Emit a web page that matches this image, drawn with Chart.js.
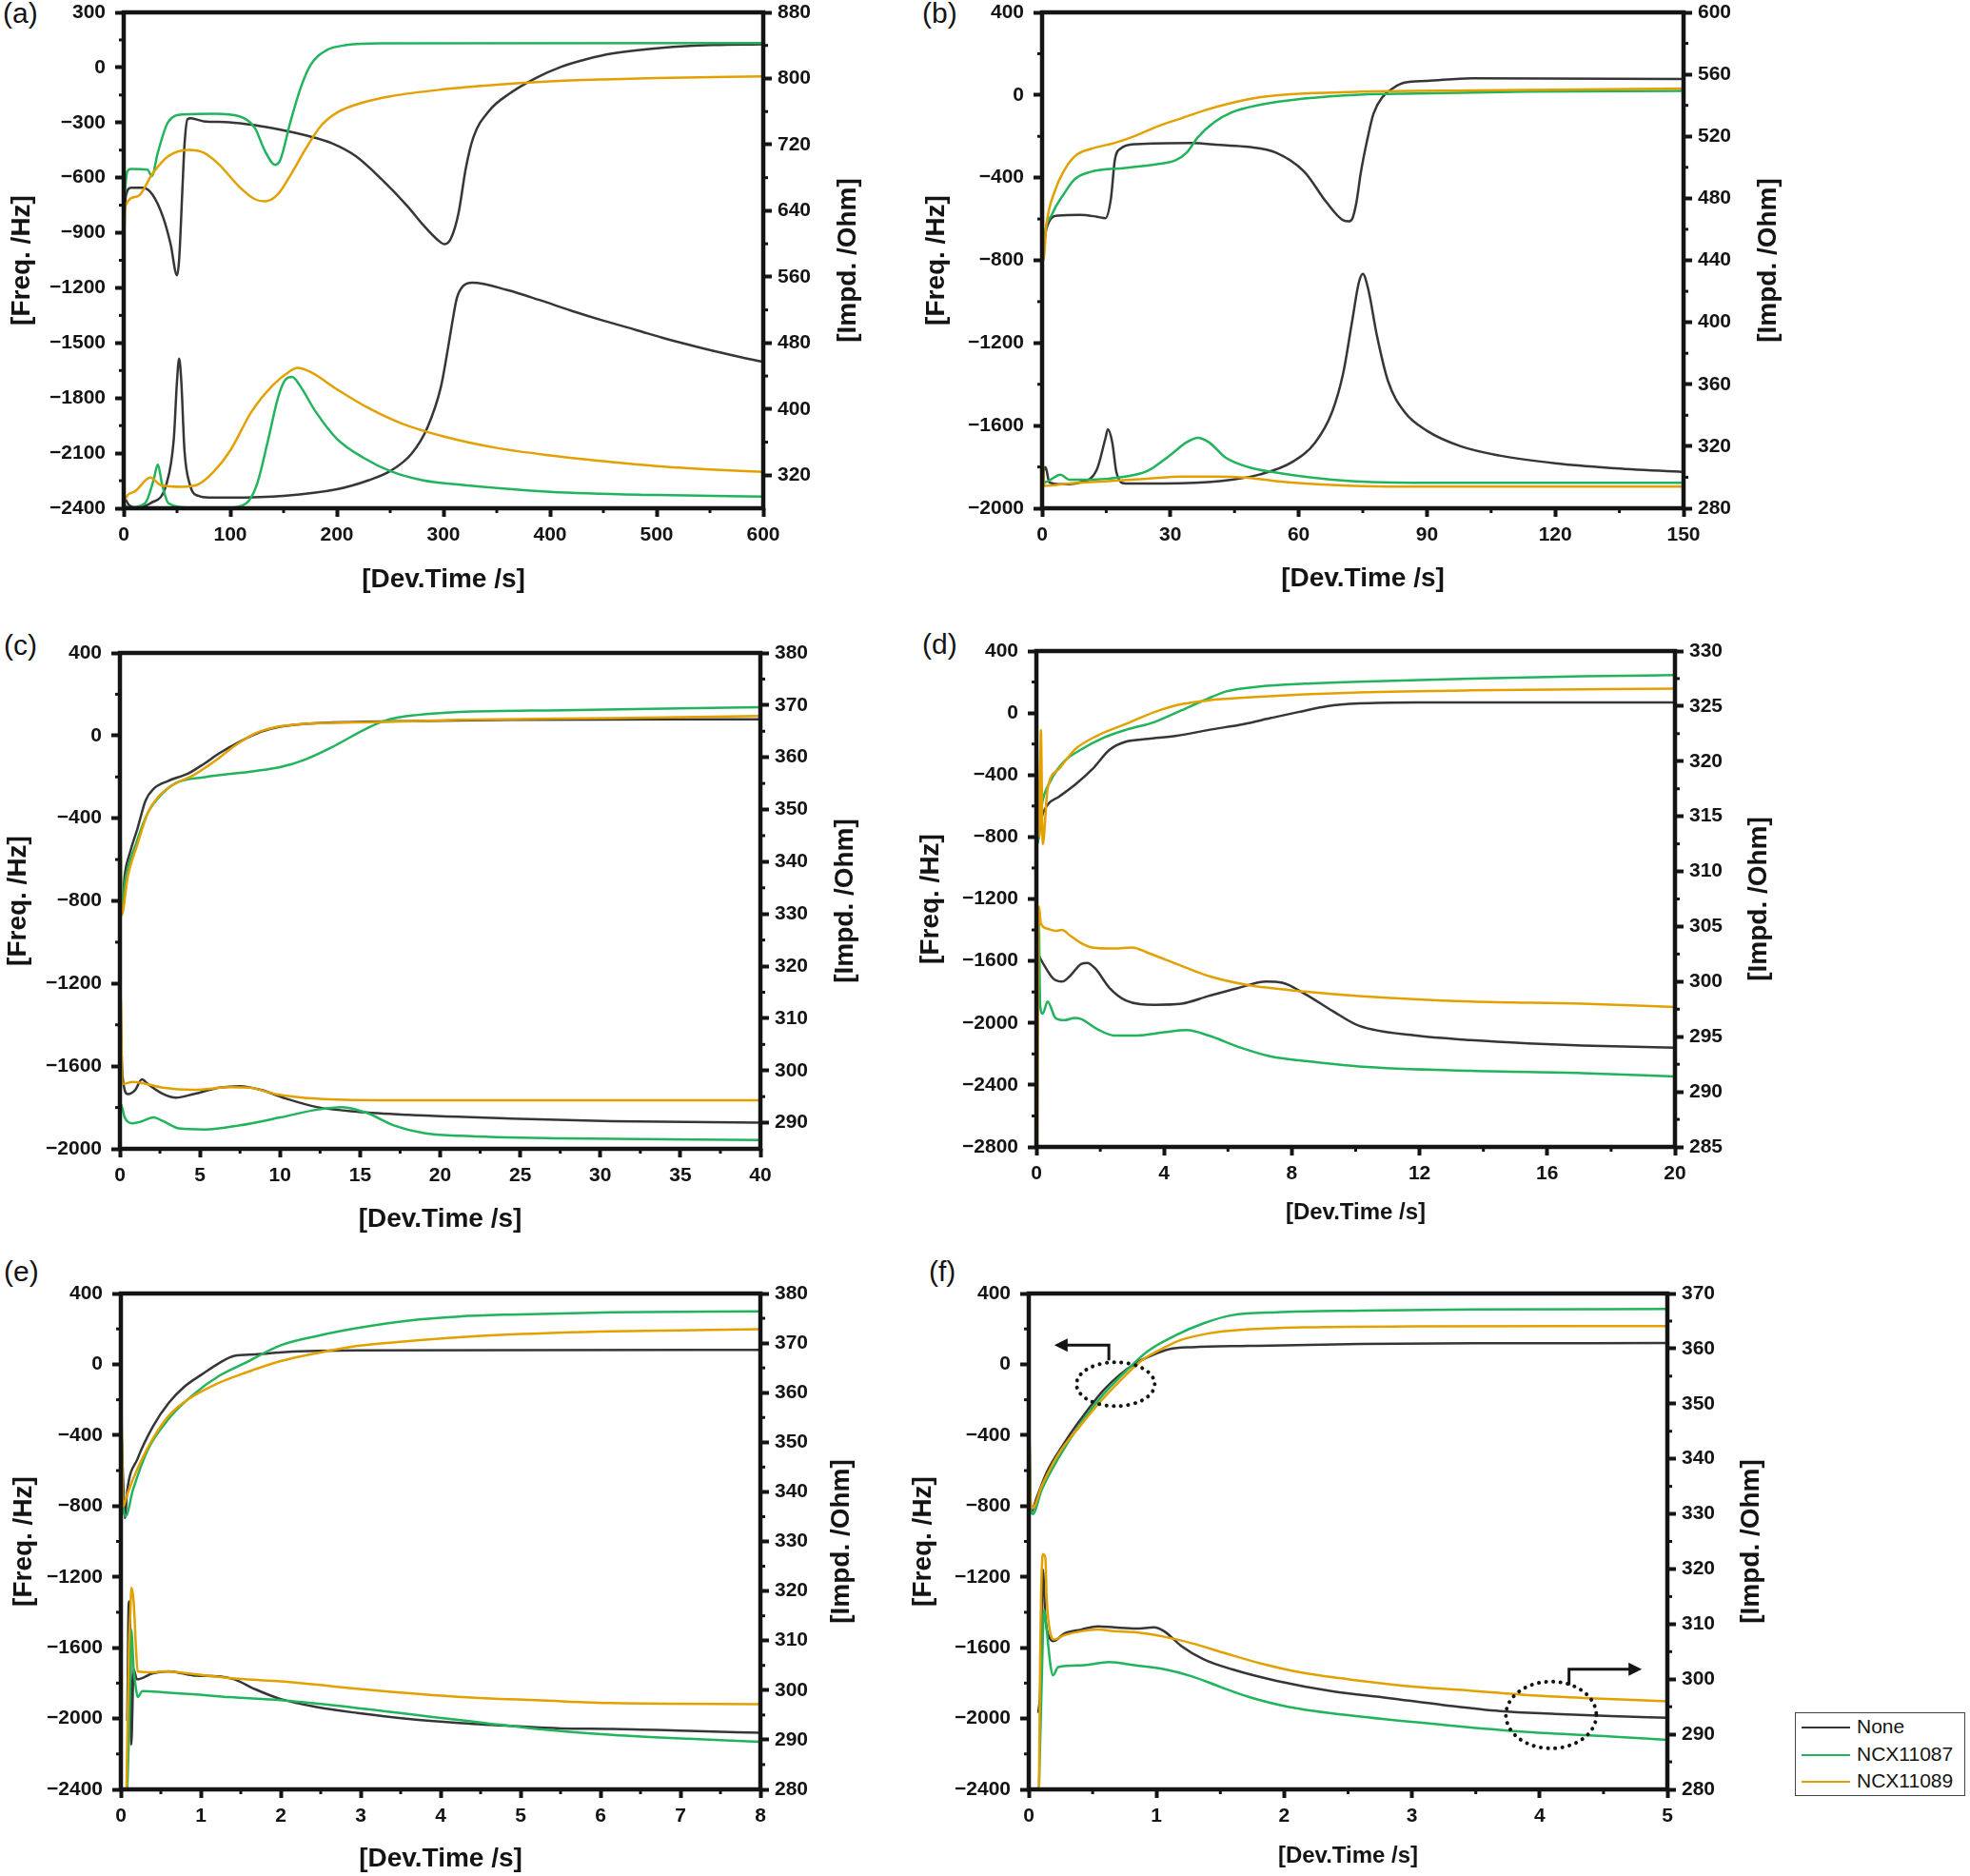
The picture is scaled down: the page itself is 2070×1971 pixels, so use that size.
<!DOCTYPE html>
<html lang="en">
<head>
<meta charset="UTF-8">
<title>Freq. / Impd. vs Dev. Time</title>
<script src="https://cdn.jsdelivr.net/npm/chart.js"></script>
<style>
  html, body { margin: 0; padding: 0; background: #fff; }
  body { width: 2070px; height: 1971px; position: relative; overflow: hidden; font-family: 'Liberation Sans', Arial, sans-serif; }
  canvas { position: absolute; }
  .tag { position: absolute; font-size: 30px; line-height: 30px; color: #141414; }
  #legend { position: absolute; left: 1886px; top: 1799px; width: 177px; height: 86px; border: 1.5px solid #444; background: #fff; }
  #legend .row { height: 28.5px; line-height: 28.5px; font-size: 21px; color: #141414; white-space: nowrap; }
  #legend .sw { display: inline-block; width: 51px; height: 2px; margin: 0 7px 0 6px; vertical-align: middle; }
</style>
</head>
<body>
<div class="tag" style="left:3px;top:-1px">(a)</div>
<div class="tag" style="left:969px;top:-1px">(b)</div>
<div class="tag" style="left:4px;top:663px">(c)</div>
<div class="tag" style="left:969px;top:662px">(d)</div>
<div class="tag" style="left:4px;top:1321px">(e)</div>
<div class="tag" style="left:976px;top:1321px">(f)</div>
<div id="legend"></div>

<script>
// ---- series / legend ----
const seriesNames = ['None', 'NCX11087', 'NCX11089'];
const lineColors = ['#363636', '#22b45c', '#e2a100'];

// ---- tick values ----
const aXTicks = [0, 100, 200, 300, 400, 500, 600];
const aYTicks = [-2400, -2100, -1800, -1500, -1200, -900, -600, -300, 0, 300];
const aY1Ticks = [320, 400, 480, 560, 640, 720, 800, 880];
const bXTicks = [0, 30, 60, 90, 120, 150];
const bYTicks = [-2000, -1600, -1200, -800, -400, 0, 400];
const bY1Ticks = [280, 320, 360, 400, 440, 480, 520, 560, 600];
const cXTicks = [0, 5, 10, 15, 20, 25, 30, 35, 40];
const cYTicks = [-2000, -1600, -1200, -800, -400, 0, 400];
const cY1Ticks = [290, 300, 310, 320, 330, 340, 350, 360, 370, 380];
const dXTicks = [0, 4, 8, 12, 16, 20];
const dYTicks = [-2800, -2400, -2000, -1600, -1200, -800, -400, 0, 400];
const dY1Ticks = [285, 290, 295, 300, 305, 310, 315, 320, 325, 330];
const eXTicks = [0, 1, 2, 3, 4, 5, 6, 7, 8];
const eYTicks = [-2400, -2000, -1600, -1200, -800, -400, 0, 400];
const eY1Ticks = [280, 290, 300, 310, 320, 330, 340, 350, 360, 370, 380];
const fXTicks = [0, 1, 2, 3, 4, 5];
const fYTicks = [-2400, -2000, -1600, -1200, -800, -400, 0, 400];
const fY1Ticks = [280, 290, 300, 310, 320, 330, 340, 350, 360, 370];

// ---- (a) [time s, value] ----
const a_freq_none = [[0,-850],[2,-700],[7,-655],[18,-655],[27,-692],[37,-816],[44,-962],[50,-1132],[52,-1045],[55,-671],[57,-422],[60,-281],[63,-277],[75,-293],[99,-298],[123,-314],[147,-339],[171,-370],[195,-412],[218,-484],[242,-609],[266,-754],[281,-858],[295,-941],[301,-962],[307,-931],[314,-796],[321,-547],[328,-381],[343,-235],[362,-142],[386,-59],[410,3],[434,45],[458,76],[505,107],[553,122],[600,126]];
const a_freq_87 = [[0,-760],[2,-620],[3.3,-567],[7,-553],[22.5,-557],[26.3,-592],[32,-464],[41.6,-298],[56,-256],[85,-252],[108.5,-266],[123,-329],[132.4,-453],[142,-530],[146.8,-505],[156.3,-298],[166,-111],[175.4,14],[190,93],[209,122],[242,132],[600,133]];
const a_freq_89 = [[0,0],[0.5,-900],[1.5,-754],[13,-702],[27,-578],[41.6,-484],[60.7,-449],[75,-464],[89,-526],[108.5,-650],[123,-717],[132.4,-729],[144.4,-692],[156.3,-588],[170.7,-443],[185,-318],[200,-246],[225,-190],[250,-157],[300,-119],[350,-94],[400,-76],[450,-65],[500,-57],[600,-49]];
const a_impd_none = [[0,295],[5,284],[12,281],[25,286],[40,309],[47,364],[50,434],[52,461],[54,434],[57,350],[62,309],[70,295],[80,293],[100,293],[150,295],[200,303],[230,314],[250,325],[270,346],[285,378],[297.6,427],[303.6,469],[308,503],[312.5,534],[318.5,549],[327,553],[360,544],[390,532],[420,519],[450,507],[480,496],[509,485],[539,475],[568,466],[600,457]];
const a_impd_87 = [[0,284],[5,281],[20,286],[28,314],[32,333],[36,309],[42,286],[60,281],[100,281],[115,286],[125,309],[135,360],[145,415],[152,436],[158,439],[165,429],[180,397],[200,364],[225,341],[250,325],[280,314],[320,308],[400,300],[500,296],[600,294]];
const a_impd_89 = [[0,281],[1,290],[10,300],[25,317],[35,308],[55,306],[70,309],[85,325],[100,350],[120,397],[140,429],[155,445],[163,450],[175,445],[200,424],[230,401],[260,383],[300,367],[350,353],[400,344],[450,337],[500,331],[550,327],[600,324]];

// ---- (b) ----
const b_freq_none = [[0,-832],[0.5,-720],[1,-648],[3.7,-583],[8.9,-580],[12.8,-589],[14.8,-596],[16.1,-500],[17,-316],[18.3,-260],[22,-238],[35,-232],[41.6,-242],[48.2,-251],[54.7,-279],[61.3,-371],[66.5,-519],[70.4,-606],[71.7,-611],[72.5,-600],[73.5,-520],[74.5,-380],[76,-220],[77.5,-90],[79.6,-10],[82.2,35],[84.8,60],[90,68],[100.5,81],[150,78]];
const b_freq_87 = [[0,-870],[0.4,-722],[2.4,-574],[5,-482],[7.6,-408],[11.5,-371],[19.4,-353],[27.2,-334],[31.2,-316],[33.8,-279],[36.4,-205],[40.3,-131],[44.2,-85],[50.8,-48],[61.3,-17],[74.3,2],[87.4,7],[113.6,16],[150,20]];
const b_freq_89 = [[0,0],[0.3,-800],[1,-629],[3,-463],[5,-371],[7.6,-297],[11.5,-260],[16.8,-233],[22,-196],[27.2,-150],[32.5,-113],[37.7,-76],[44.2,-39],[50.8,-11],[61.3,7],[74.3,16],[100.5,22],[150,31]];
const b_impd_none = [[0,300],[0.8,306.6],[1.7,296.7],[5,295.5],[8.9,296.7],[12.8,305],[14.8,325],[15.4,331],[16.4,322.6],[17.4,303],[19.4,296],[28.5,296],[41.6,297.5],[50.8,301.7],[58.6,310],[63.9,322.6],[67.8,342],[70.4,367],[72.4,399],[74.1,426],[75,431.3],[76.3,421],[78.3,391.4],[80.9,362],[84.8,342],[90,330],[97.9,320],[107,314],[120,309],[133,306],[150,303.4]];
const b_impd_87 = [[0,312.7],[0.5,296.7],[4.3,301.7],[6.3,298.5],[11.5,298.5],[19.4,300.4],[24.6,304],[29.8,314],[33.8,322.6],[36.4,325.5],[39,322.6],[42.9,312.7],[48.2,306.6],[54.7,303],[67.8,298.5],[87.4,296.5],[150,296.5]];
const b_impd_89 = [[0,281],[0.2,310],[0.5,294.4],[6.3,296],[15.4,297.5],[24.6,299],[32.5,300.4],[40.3,300.4],[48.2,299.7],[54.7,297.5],[67.8,295],[80.9,294],[150,294]];

// ---- (c) ----
const c_freq_none = [[0,-700],[0.1,-869],[0.3,-678],[0.64,-563],[1.1,-449],[1.6,-315],[2.1,-258],[3,-220],[4.3,-182],[5.3,-134],[6.2,-86],[7.5,-29],[8.8,18],[10,43],[11.6,57],[14.8,66],[18,70],[24.4,76],[40,79]];
const c_freq_87 = [[0,0],[0.1,-869],[0.3,-716],[1,-525],[1.75,-373],[2.7,-277],[3.5,-229],[5.3,-201],[8.4,-172],[10,-153],[11.6,-115],[13.2,-58],[15.5,38],[16.7,76],[18.6,100],[21.2,114],[27.6,123],[40,137]];
const c_freq_89 = [[0,0],[0.1,-869],[0.5,-678],[1.1,-525],[1.75,-373],[2.4,-296],[3.3,-239],[4.6,-191],[5.9,-125],[7.2,-48],[8.4,9],[9.7,41],[11.6,57],[16.4,66],[21.2,76],[30.8,85],[40,95]];
const c_impd_none = [[0,315],[0.16,299],[0.5,295.5],[0.96,296.3],[1.37,298.3],[1.75,297.4],[2.7,295.5],[3.5,294.8],[4.6,295.5],[6.2,296.7],[7.5,297],[8.8,296.3],[10.4,294.6],[12.3,293],[14.8,292.1],[18,291.5],[24.4,290.8],[30.8,290.3],[40,290]];
const c_impd_87 = [[0,285],[0.05,293.6],[0.3,291],[0.8,289.9],[1.4,290.3],[2.1,291],[2.7,290.3],[3.7,288.9],[5.3,288.7],[7.5,289.5],[10,291],[12.3,292.5],[13.9,293],[15.5,291.8],[17.1,289.5],[19,288],[21.2,287.5],[27.6,287],[40,286.7]];
const c_impd_89 = [[0,285],[0.05,314],[0.15,297.4],[0.8,297.8],[1.4,297.6],[2.7,296.7],[4.6,296.3],[6.9,296.8],[8.1,296.7],[9.7,295.5],[12.3,294.6],[16.4,294.3],[40,294.3]];

// ---- (d) ----
const d_freq_none = [[0,-700],[0.03,-846],[0.14,-694],[0.35,-592],[0.7,-541],[1.2,-465],[1.75,-363],[2.3,-236],[2.8,-185],[3.5,-167],[4.4,-147],[5.4,-109],[6.5,-71],[7.35,-32],[8.2,6],[9.1,44],[10.1,62],[11.9,69],[20,69]];
const d_freq_87 = [[0,-700],[0.03,-834],[0.17,-592],[0.44,-440],[0.87,-312],[1.4,-236],[2.1,-160],[2.8,-109],[3.7,-58],[4.55,18],[5.25,82],[5.95,140],[7,171],[8.4,189],[10.1,202],[13.6,222],[17.1,237],[20,245]];
const d_freq_89 = [[0,0],[0.1,-796],[0.14,-109],[0.2,-846],[0.35,-490],[0.7,-363],[1.2,-236],[1.9,-147],[2.8,-71],[3.7,6],[4.55,57],[5.4,82],[6.6,100],[8.4,120],[10.1,133],[13.6,146],[20,158]];
const d_impd_none = [[0.05,302.5],[0.26,301.4],[0.52,300.3],[0.8,300],[1.05,300.5],[1.4,301.6],[1.6,301.7],[1.84,301.2],[2.3,299.4],[2.8,298.3],[3.7,297.9],[4.55,298],[5.4,298.7],[6.3,299.4],[7.2,300],[7.7,299.9],[8.4,298.9],[9.3,297.3],[10.1,296],[11.9,295.1],[13.6,294.7],[15.4,294.4],[17.1,294.2],[20,294]];
const d_impd_87 = [[0.08,306],[0.12,297.8],[0.2,297.1],[0.35,298.2],[0.6,296.7],[0.87,296.5],[1.2,296.7],[1.4,296.6],[1.9,295.7],[2.45,295.1],[3.15,295.1],[4,295.4],[4.7,295.6],[5.4,295.1],[6.3,294.1],[7.35,293.2],[8.4,292.8],[10.1,292.3],[13.6,291.9],[17.1,291.7],[20,291.4]];
const d_impd_89 = [[0.03,285],[0.08,306.8],[0.14,305.3],[0.35,304.8],[0.6,304.6],[0.8,304.7],[1.05,304.2],[1.4,303.5],[1.75,303.1],[2.45,303],[3,303.1],[3.5,302.6],[4.4,301.6],[5.4,300.5],[6.6,299.7],[8.4,299.1],[10.1,298.7],[13.6,298.2],[17.1,298],[20,297.7]];

// ---- (e) ----
const e_freq_none = [[0,-300],[0.04,-801],[0.05,-868],[0.08,-711],[0.21,-532],[0.4,-352],[0.6,-217],[0.79,-128],[1.04,-49],[1.23,7],[1.42,48],[1.68,56],[2.06,70],[2.96,79],[8,82]];
const e_freq_87 = [[0,0],[0.02,-711],[0.06,-857],[0.15,-711],[0.34,-480],[0.6,-307],[0.9,-173],[1.23,-65],[1.55,7],[2,108],[2.45,160],[2.96,205],[3.6,247],[4.23,270],[4.87,281],[6.15,294],[8,299]];
const e_freq_89 = [[0,0],[0.03,-801],[0.08,-734],[0.21,-588],[0.4,-420],[0.6,-290],[0.85,-195],[1.17,-116],[1.55,-49],[2,18],[2.45,63],[2.96,104],[3.6,131],[4.23,153],[4.87,169],[6.15,187],[8,198]];
const e_impd_none = [[0.08,293.8],[0.1,317.9],[0.12,308.2],[0.13,289],[0.16,304.2],[0.2,302.2],[0.4,303.4],[0.6,303.8],[0.9,303],[1.23,302.8],[1.42,302.2],[1.68,300.2],[2,298.2],[2.45,296.6],[2.96,295.4],[3.6,294.2],[4.23,293.4],[4.87,292.8],[5.5,292.3],[6.15,292.2],[7.1,291.8],[8,291.4]];
const e_impd_87 = [[0.08,280],[0.11,296.2],[0.13,312.2],[0.16,304.2],[0.19,300.2],[0.21,298.6],[0.27,299.8],[0.53,299.6],[0.9,299.2],[1.36,298.6],[2,298],[2.64,297],[3.28,295.8],[3.9,294.6],[4.55,293.4],[5.2,292.2],[6.15,291],[7.1,290.2],[8,289.6]];
const e_impd_89 = [[0.07,280],[0.1,308.2],[0.12,316.2],[0.13,320.7],[0.16,317.9],[0.19,308.2],[0.21,303.8],[0.4,303.6],[0.53,303.8],[0.72,303.6],[1.04,303],[1.55,302.2],[2,301.8],[2.64,300.8],[3.28,299.8],[3.9,299],[4.55,298.4],[5.2,298],[6.15,297.4],[8,297.2]];

// ---- (f) ----
const f_freq_none = [[0,0],[0.01,-711],[0.02,-835],[0.06,-756],[0.14,-610],[0.28,-442],[0.41,-307],[0.58,-150],[0.71,-60],[0.84,7],[0.98,56],[1.1,86],[1.28,97],[1.72,104],[2.6,115],[3.47,119],[5,120]];
const f_freq_87 = [[0,0],[0.01,-756],[0.03,-846],[0.1,-711],[0.23,-532],[0.41,-330],[0.58,-173],[0.76,-38],[0.93,74],[1.15,164],[1.37,232],[1.59,277],[1.94,294],[2.6,303],[3.47,310],[5,312]];
const f_freq_89 = [[0,0],[0.01,-711],[0.03,-812],[0.1,-689],[0.23,-509],[0.41,-341],[0.58,-195],[0.76,-60],[0.89,25],[1.02,79],[1.19,137],[1.41,175],[1.63,193],[2.16,209],[3.03,214],[5,216]];
const f_impd_none = [[0.075,293.9],[0.09,298.2],[0.11,319.9],[0.13,311.2],[0.17,307.2],[0.19,306.9],[0.28,308.3],[0.41,309],[0.54,309.6],[0.67,309.4],[0.84,309.2],[0.98,309.4],[1.06,308.7],[1.19,306.1],[1.37,303.6],[1.59,301.8],[1.94,299.7],[2.38,297.8],[2.81,296.6],[3.25,295.3],[3.69,294.2],[4.12,293.7],[4.56,293.3],[5,293]];
const f_impd_87 = [[0.08,280],[0.1,298.2],[0.12,312.6],[0.14,309],[0.17,302.5],[0.19,300.7],[0.23,302.2],[0.41,302.5],[0.63,303.1],[0.84,302.5],[1.06,301.8],[1.28,300.5],[1.5,298.6],[1.72,296.8],[2.03,295],[2.6,293.2],[3.25,291.7],[3.91,290.4],[4.56,289.6],[5,289]];
const f_impd_89 = [[0.08,280],[0.09,305.4],[0.11,322.7],[0.13,322],[0.14,314.8],[0.17,308.3],[0.2,307.2],[0.28,308],[0.41,308.7],[0.54,309],[0.67,308.7],[0.84,308.5],[1.06,307.7],[1.28,306.5],[1.54,304.7],[1.81,302.9],[2.16,301.1],[2.6,299.7],[3.03,298.6],[3.47,297.9],[3.91,297.1],[4.34,296.6],[5,296]];

// ---- layout of the six panels (canvas box and plot area, page px) ----
const FONT = "'Liberation Sans', Arial, sans-serif";
const INK = '#141414';
const panels = [
  { box: [6, 0, 908, 626], area: [130, 13, 802, 534], x: [0, 600], y: [-2400, 300], y1: [280, 880],
    xt: aXTicks, yt: aYTicks, y1t: aY1Ticks, xTitle: 28,
    freq: [a_freq_none, a_freq_87, a_freq_89], impd: [a_impd_none, a_impd_87, a_impd_89] },
  { box: [967, 0, 1875, 625], area: [1095, 13, 1769, 534], x: [0, 150], y: [-2000, 400], y1: [280, 600],
    xt: bXTicks, yt: bYTicks, y1t: bY1Ticks, xTitle: 28,
    freq: [b_freq_none, b_freq_87, b_freq_89], impd: [b_impd_none, b_impd_87, b_impd_89] },
  { box: [2, 666, 905, 1298], area: [126, 686, 799, 1207], x: [0, 40], y: [-2000, 400], y1: [285, 380],
    xt: cXTicks, yt: cYTicks, y1t: cY1Ticks, xTitle: 28,
    freq: [c_freq_none, c_freq_87, c_freq_89], impd: [c_impd_none, c_impd_87, c_impd_89] },
  { box: [961, 664, 1865, 1289], area: [1089, 684, 1760, 1205], x: [0, 20], y: [-2800, 400], y1: [285, 330],
    xt: dXTicks, yt: dYTicks, y1t: dY1Ticks, xTitle: 24,
    freq: [d_freq_none, d_freq_87, d_freq_89], impd: [d_impd_none, d_impd_87, d_impd_89] },
  { box: [8, 1339, 901, 1970], area: [127, 1359, 799, 1880], x: [0, 8], y: [-2400, 400], y1: [280, 380],
    xt: eXTicks, yt: eYTicks, y1t: eY1Ticks, xTitle: 28,
    freq: [e_freq_none, e_freq_87, e_freq_89], impd: [e_impd_none, e_impd_87, e_impd_89] },
  { box: [953, 1339, 1857, 1965], area: [1081, 1359, 1752, 1880], x: [0, 5], y: [-2400, 400], y1: [280, 370],
    xt: fXTicks, yt: fYTicks, y1t: fY1Ticks, xTitle: 24, notes: true,
    freq: [f_freq_none, f_freq_87, f_freq_89], impd: [f_impd_none, f_impd_87, f_impd_89] }
];

// dotted circles and arrows of panel (f), in data units
const fEllipses = [
  { axis: 'y', cx: 0.68, cy: -112, rx: 0.306, ry: 124 },
  { axis: 'y1', cx: 4.09, cy: 293.5, rx: 0.354, ry: 6.06 }
];
const fArrows = [
  { axis: 'y', x: 0.627, from: 23, to: 109, tip: 0.2 },
  { axis: 'y1', x: 4.23, from: 298.9, to: 301.8, tip: 4.8 }
];

function fmt(v) { return v < 0 ? '\u2212' + Math.abs(v) : String(v); }

const framePlugin = {
  id: 'frame',
  afterDatasetsDraw(chart) {
    const { ctx, chartArea: a } = chart;
    ctx.save();
    ctx.strokeStyle = INK;
    ctx.lineWidth = 4.5;
    ctx.strokeRect(a.left, a.top, a.right - a.left, a.bottom - a.top);
    ctx.restore();
  }
};

const minorPlugin = {
  id: 'minorTicks',
  afterDraw(chart) {
    const { ctx, chartArea: a } = chart;
    ctx.save();
    ctx.strokeStyle = INK;
    ctx.lineWidth = 3;
    for (const id of ['x', 'y', 'y1']) {
      const s = chart.scales[id];
      const vals = s.ticks.map(t => t.value);
      const step = vals[1] - vals[0];
      for (let v = vals[0] - step / 2; v < s.max; v += step) {
        if (v <= s.min) continue;
        const p = s.getPixelForValue(v);
        ctx.beginPath();
        if (id === 'x') { ctx.moveTo(p, a.bottom); ctx.lineTo(p, a.bottom + 5); }
        else if (id === 'y') { ctx.moveTo(a.left, p); ctx.lineTo(a.left - 5, p); }
        else { ctx.moveTo(a.right, p); ctx.lineTo(a.right + 5, p); }
        ctx.stroke();
      }
    }
    ctx.restore();
  }
};

// right axis title reads bottom-to-top like the left one
const rightTitlePlugin = {
  id: 'rightTitle',
  afterDraw(chart) {
    const { ctx, chartArea: a } = chart;
    ctx.save();
    ctx.font = 'bold 28px ' + FONT;
    ctx.fillStyle = INK;
    ctx.textAlign = 'center';
    ctx.textBaseline = 'middle';
    ctx.translate(chart.width - 16.8, (a.top + a.bottom) / 2);
    ctx.rotate(-Math.PI / 2);
    ctx.fillText('[Impd. /Ohm]', 0, 0);
    ctx.restore();
  }
};

const notesPlugin = {
  id: 'notes',
  afterDraw(chart) {
    if (!chart.options.plugins.notes.show) return;
    const { ctx } = chart;
    const xs = chart.scales.x;
    ctx.save();
    ctx.strokeStyle = INK;
    ctx.fillStyle = INK;
    for (const e of fEllipses) {
      const ys = chart.scales[e.axis];
      const px = xs.getPixelForValue(e.cx), py = ys.getPixelForValue(e.cy);
      const rx = Math.abs(xs.getPixelForValue(e.cx + e.rx) - px);
      const ry = Math.abs(ys.getPixelForValue(e.cy + e.ry) - py);
      ctx.lineWidth = 4;
      ctx.lineCap = 'round';
      ctx.setLineDash([0.1, 7.5]);
      ctx.beginPath();
      ctx.ellipse(px, py, rx, ry, 0, 0, Math.PI * 2);
      ctx.stroke();
    }
    ctx.setLineDash([]);
    ctx.lineCap = 'butt';
    for (const r of fArrows) {
      const ys = chart.scales[r.axis];
      const x0 = xs.getPixelForValue(r.x);
      const yA = ys.getPixelForValue(r.from), yB = ys.getPixelForValue(r.to);
      const tip = xs.getPixelForValue(r.tip);
      const dir = tip > x0 ? 1 : -1;
      ctx.lineWidth = 3;
      ctx.beginPath();
      ctx.moveTo(x0, yA);
      ctx.lineTo(x0, yB);
      ctx.lineTo(tip - dir * 12, yB);
      ctx.stroke();
      ctx.beginPath();
      ctx.moveTo(tip, yB);
      ctx.lineTo(tip - dir * 14, yB - 7);
      ctx.lineTo(tip - dir * 14, yB + 7);
      ctx.closePath();
      ctx.fill();
    }
    ctx.restore();
  }
};

function buildDatasets(p) {
  const out = [];
  p.freq.forEach((arr, i) => out.push({
    label: seriesNames[i], yAxisID: 'y', order: 3 - i,
    data: arr.map(([x, y]) => ({ x, y })), borderColor: lineColors[i]
  }));
  p.impd.forEach((arr, i) => out.push({
    label: seriesNames[i], yAxisID: 'y1', order: 3 - i,
    data: arr.map(([x, y]) => ({ x, y })), borderColor: lineColors[i]
  }));
  return out;
}

function axisBase(ticksArr, pad) {
  return {
    type: 'linear',
    afterBuildTicks: s => { s.ticks = ticksArr.map(v => ({ value: v })); },
    ticks: { color: INK, font: { family: FONT, size: 21, weight: 'bold' }, padding: pad,
             autoSkip: false, maxRotation: 0, callback: v => fmt(v) },
    grid: { display: true, drawOnChartArea: false, drawTicks: true, tickLength: 9, tickWidth: 4, tickColor: INK },
    border: { display: false }
  };
}

for (const p of panels) {
  const cv = document.createElement('canvas');
  const w = p.box[2] - p.box[0], h = p.box[3] - p.box[1];
  cv.width = w; cv.height = h;
  cv.style.left = p.box[0] + 'px';
  cv.style.top = p.box[1] + 'px';
  cv.style.width = w + 'px';
  cv.style.height = h + 'px';
  document.body.appendChild(cv);

  const leftW = p.area[0] - p.box[0];
  const rightW = p.box[2] - p.area[2];
  const bottomH = p.box[3] - p.area[3];
  const topPad = p.area[1] - p.box[1];

  const xAxis = Object.assign(axisBase(p.xt, 7), {
    position: 'bottom', min: p.x[0], max: p.x[1],
    afterFit: s => { s.height = bottomH; s.paddingLeft = 0; s.paddingRight = 0; },
    title: { display: true, text: '[Dev.Time /s]', color: INK, padding: 0,
             font: { family: FONT, size: p.xTitle, weight: 'bold' } }
  });
  const yAxis = Object.assign(axisBase(p.yt, 10), {
    position: 'left', min: p.y[0], max: p.y[1],
    afterFit: s => { s.width = leftW; s.paddingTop = 0; s.paddingBottom = 0; },
    title: { display: true, text: '[Freq. /Hz]', color: INK, padding: 0,
             font: { family: FONT, size: 28, weight: 'bold' } }
  });
  const y1Axis = Object.assign(axisBase(p.y1t, 6), {
    position: 'right', min: p.y1[0], max: p.y1[1],
    afterFit: s => { s.width = rightW; s.paddingTop = 0; s.paddingBottom = 0; }
  });

  new Chart(cv, {
    type: 'line',
    data: { datasets: buildDatasets(p) },
    options: {
      responsive: false,
      animation: false,
      devicePixelRatio: 1,
      layout: { padding: { top: topPad, left: 0, right: 0, bottom: 0 } },
      elements: { point: { radius: 0 }, line: { borderWidth: 2.5, cubicInterpolationMode: 'monotone' } },
      plugins: { legend: { display: false }, tooltip: { enabled: false }, notes: { show: !!p.notes } },
      scales: { x: xAxis, y: yAxis, y1: y1Axis }
    },
    plugins: [framePlugin, minorPlugin, rightTitlePlugin, notesPlugin]
  });
}

// shared legend
const legend = document.getElementById('legend');
seriesNames.forEach((name, i) => {
  const row = document.createElement('div');
  row.className = 'row';
  const sw = document.createElement('span');
  sw.className = 'sw';
  sw.style.background = lineColors[i];
  row.appendChild(sw);
  row.appendChild(document.createTextNode(name));
  legend.appendChild(row);
});
</script>
</body>
</html>
